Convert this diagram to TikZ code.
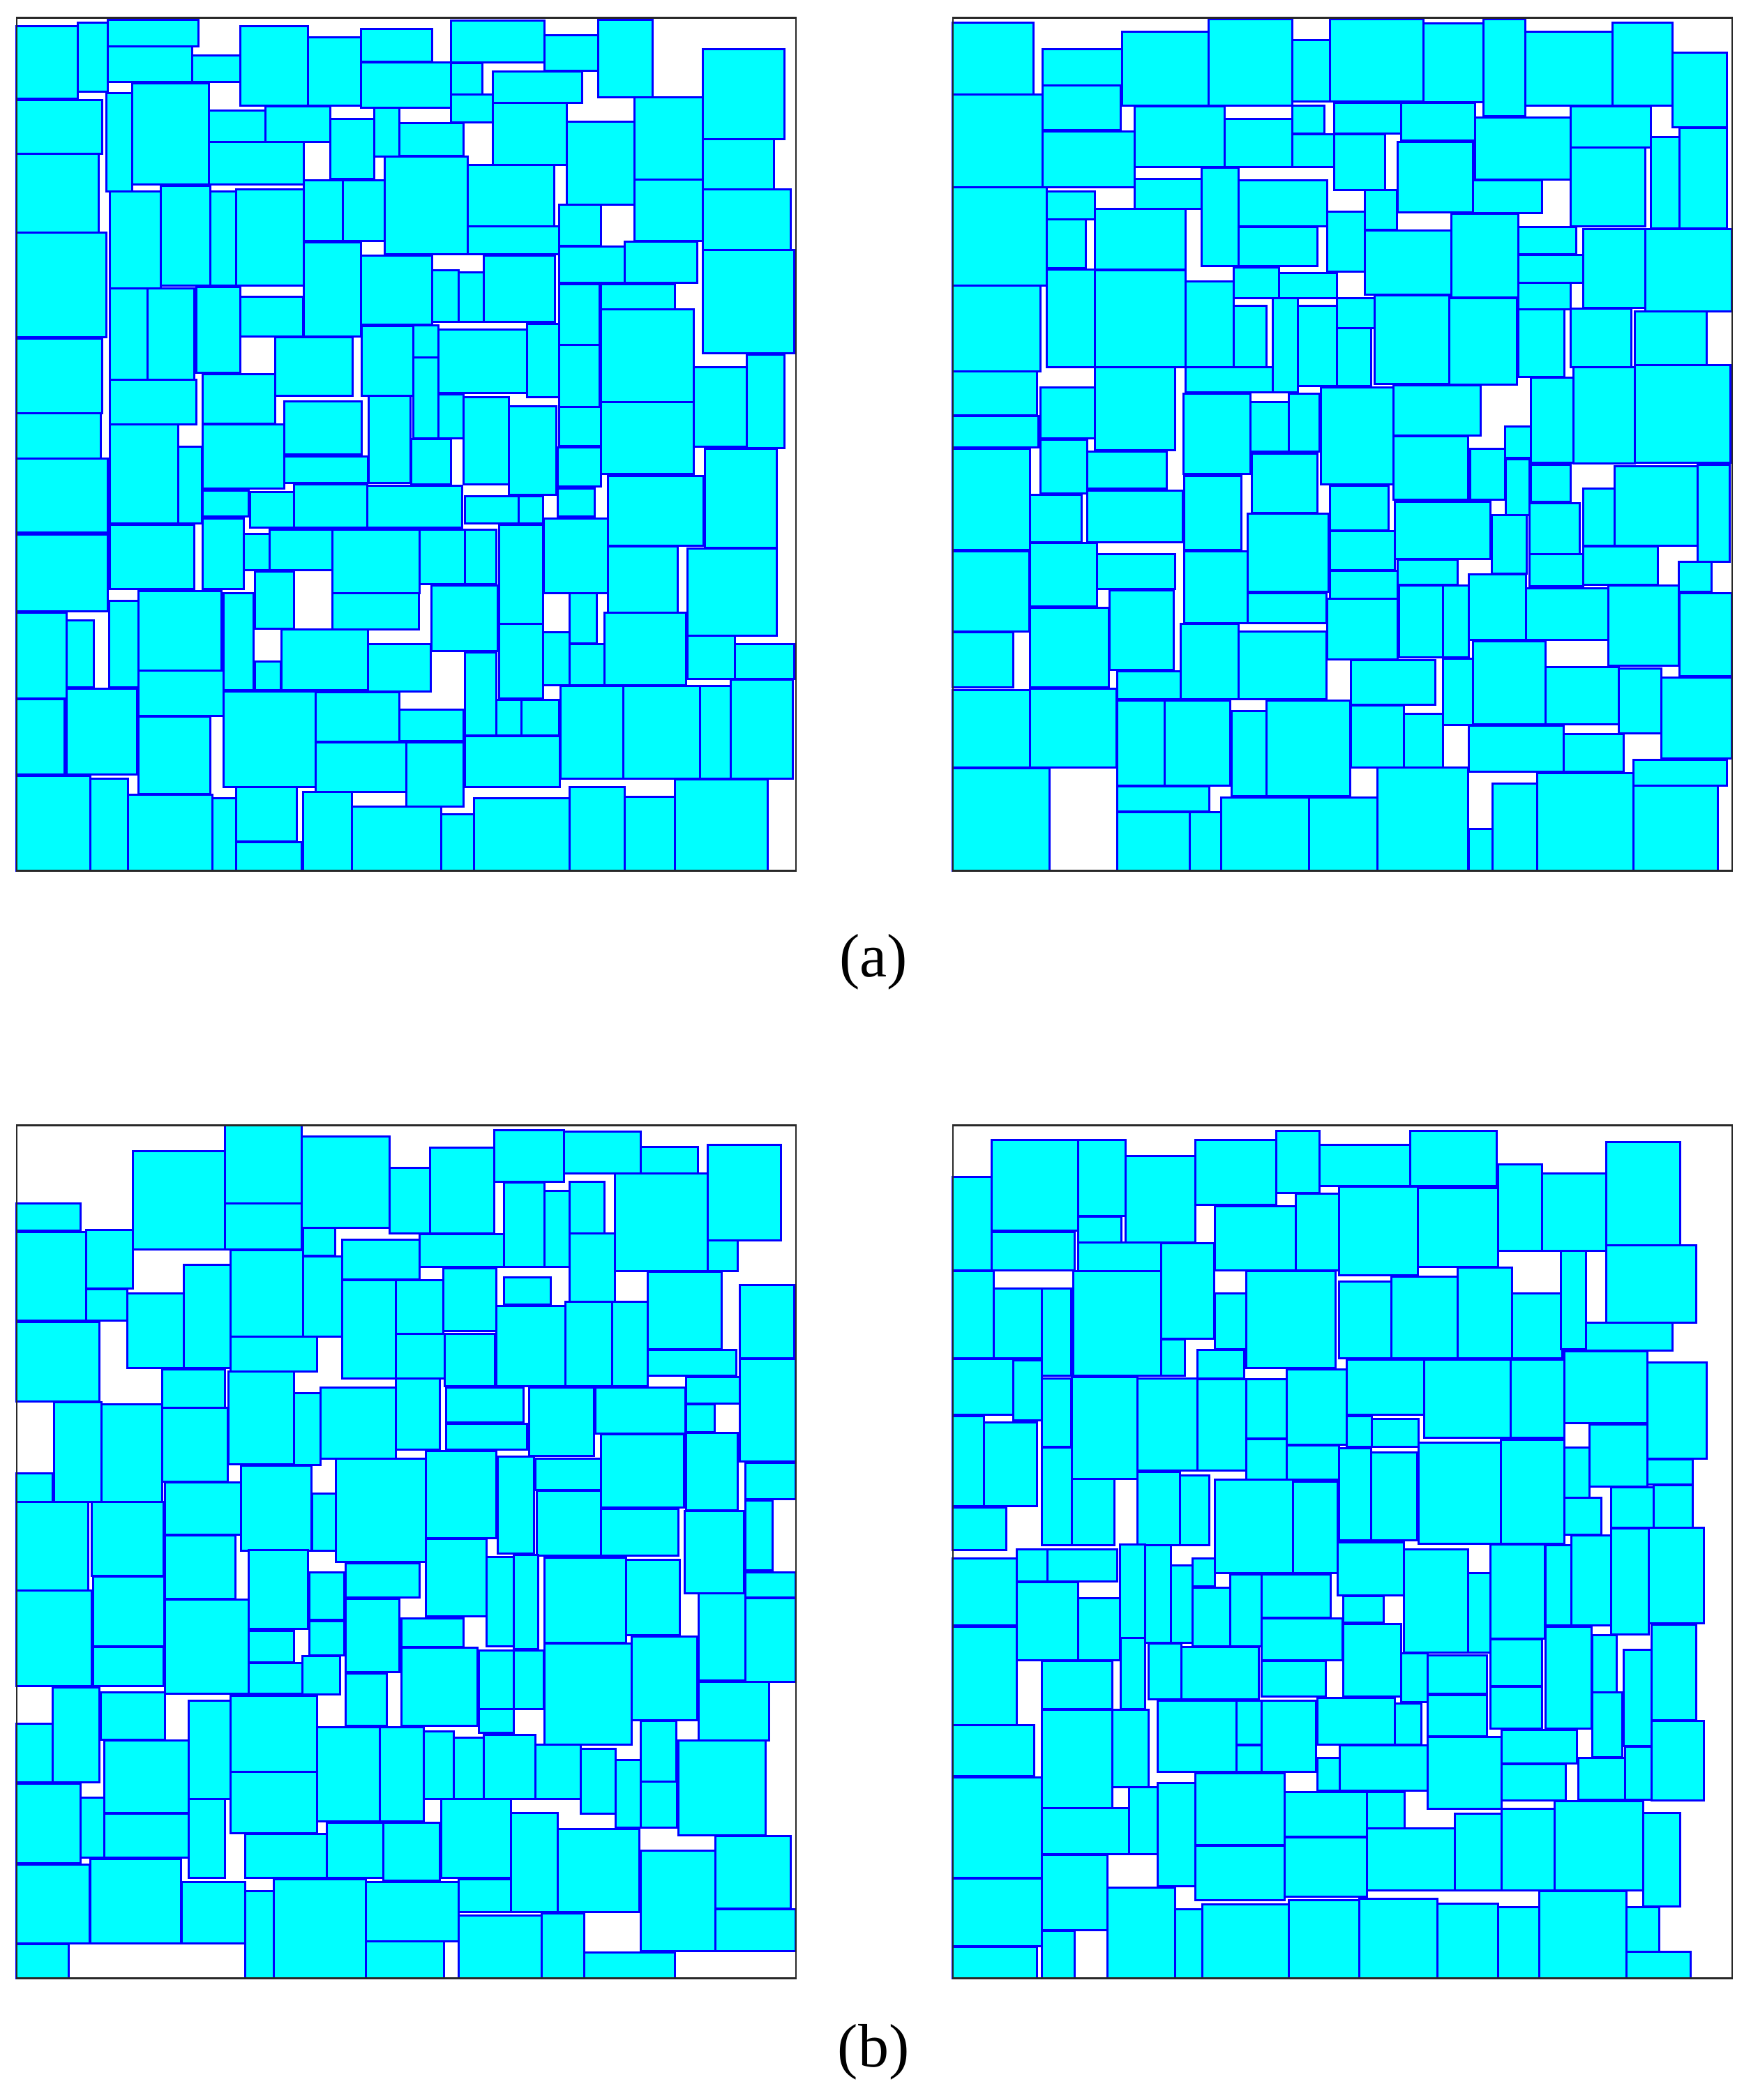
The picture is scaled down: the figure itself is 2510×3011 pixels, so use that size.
\documentclass[tikz,border=0pt]{standalone}
\usepackage{fontspec}
\setmainfont{Liberation Serif}
\definecolor{boxfill}{RGB}{0,255,255}
\definecolor{boxline}{RGB}{0,0,255}
\definecolor{frameline}{RGB}{40,40,40}
\newcommand\rectpanel[3]{%
  \begin{scope}[xshift=#1pt,yshift=-#2pt,x=0.72066pt,y=-0.39698pt]
    \foreach \a/\b/\c/\d in {#3}{\draw[box] (\a,\b) rectangle (\c,\d);}
    \draw[frame] (8,14) rectangle (1558,3095);
  \end{scope}}
\begin{document}
\begin{tikzpicture}[x=1pt,y=-1pt,
  box/.style={draw=boxline,fill=boxfill,line width=3pt},
  frame/.style={draw=frameline,line width=2.5pt},
  lbl/.style={font=\fontsize{88}{100}\selectfont,inner sep=0pt}]
\useasboundingbox (0,0) rectangle (2510,3011);
% top-left panel
\rectpanel{18}{20}{8/45/130/305, 130/32/190/282, 190/22/370/117, 190/117/357/245, 357/150/453/245, 453/45/588/330, 588/85/693/330, 693/55/835/172, 693/175/872/340, 872/25/1058/175, 1058/77/1165/205, 1165/22/1273/300, 1373/127/1535/452, 872/178/935/290, 955/207/1133/322, 872/290/955/392, 955/322/1102/545, 1102/390/1237/688, 1237/300/1373/598, 1373/452/1515/633, 8/310/178/505, 186/285/238/640, 238/250/390/615, 390/350/503/463, 503/335/632/463, 390/463/580/615, 632/380/720/597, 720/340/770/515, 770/395/897/512, 8/505/172/790, 8/790/187/1168, 193/642/295/990, 295/620/393/982, 393/640/445/982, 445/633/580/982, 580/600/657/820, 657/600/740/820, 740/515/906/868, 906/546/1077/767, 906/767/1087/868, 1087/688/1170/838, 1237/598/1373/820, 1373/633/1548/853, 1087/840/1217/972, 1217/822/1362/972, 1373/853/1555/1225, 580/825/693/1165, 693/872/835/1123, 835/925/887/1113, 887/933/937/1113, 937/873/1079/1113, 1087/975/1167/1195, 1170/975/1318/1067, 1170/1067/1355/1402, 193/990/268/1320, 268/992/362/1320, 365/985/453/1297, 453/1022/578/1165, 8/1172/178/1442, 193/1320/365/1482, 378/1302/522/1480, 522/1168/677/1380, 695/1127/797/1380, 797/1125/847/1240, 847/1140/1024/1368, 1024/1120/1087/1383, 797/1240/847/1533, 847/1375/897/1533, 1087/1195/1167/1420,
1087/1420/1170/1561, 1170/1402/1355/1661, 1355/1277/1460/1563, 1460/1230/1535/1568, 8/1442/175/1605, 193/1482/330/1840, 378/1482/540/1715, 540/1400/695/1590, 708/1380/792/1695, 897/1383/987/1698, 987/1418/1082/1738, 793/1535/872/1698,
330/1563/377/1840, 8/1605/190/1873, 8/1881/190/2158, 540/1598/707/1695, 1085/1565/1170/1706, 1085/1713/1158/1816, 1377/1571/1520/1928, 1185/1668/1375/1921, 378/1721/470/1816, 473/1728/560/1856, 560/1698/706/1856, 706/1703/895/1856, 900/1741/1007/1840, 1007/1743/1055/1840, 1057/1823/1185/2093, 193/1846/362/2078, 378/1823/460/2078, 460/1878/512/2008, 512/1863/636/2008, 636/1863/810/2093, 810/1863/900/2060, 900/1863/962/2060, 968/1846/1055/2203, 1185/1923/1323/2163, 1342/1931/1520/2245, 8/2163/107/2473, 107/2191/162/2431, 192/2121/250/2431, 250/2085/415/2371, 250/2371/420/2536, 420/2091/480/2443, 482/2013/560/2221, 636/2093/808/2223, 482/2338/533/2443, 535/2223/707/2443, 707/2276/832/2448, 833/2065/965/2300, 968/2203/1055/2473, 1055/2233/1108/2425, 1108/2093/1162/2273, 1108/2276/1178/2425, 1178/2163/1340/2425, 1342/2245/1437/2401, 1437/2276/1555/2403, 8/2476/103/2748, 107/2438/248/2748, 250/2538/393/2818, 420/2446/603/2793, 603/2451/770/2628, 770/2513/897/2626, 603/2631/783/2810, 783/2631/897/2863, 900/2305/962/2605, 962/2478/1012/2605, 1012/2478/1087/2605, 900/2608/1088/2793, 1090/2428/1215/2761, 1215/2428/1368/2761, 1368/2428/1428/2761, 1428/2405/1552/2761, 8/2753/155/3095, 155/2761/230/3095, 230/2821/397/3095, 397/2833/445/3095, 445/2793/565/2988, 445/2991/575/3095, 578/2811/675/3095, 675/2863/852/3095, 852/2891/918/3095, 918/2833/1108/3095, 1108/2793/1217/3095, 1217/2828/1318/3095, 1318/2765/1502/3095}
% top-right panel
\rectpanel{1360}{20}{8/32/168/290, 187/127/345/258, 187/258/342/420, 345/63/517/330, 517/18/684/330, 684/95/758/315, 758/18/944/315, 944/35/1063/318, 1063/18/1147/368, 1147/65/1320/330, 1320/32/1440/330, 1440/140/1548/410, 8/290/187/625, 187/425/370/625, 370/335/549/553, 549/380/684/553, 684/330/747/432, 684/435/767/553, 767/320/900/433, 900/320/1047/458, 767/435/868/635, 893/462/1043/717, 1047/375/1237/598, 1237/335/1397/483, 1237/483/1385/767, 1397/445/1453/775, 1453/412/1548/775, 1043/600/1180/720, 8/625/195/982, 195/640/290/742, 195/742/272/918, 290/705/471/922, 370/595/503/705, 503/555/577/910, 577/600/753/768, 577/770/733/910, 753/713/828/932, 828/635/892/780, 828/783/1000/1015, 1000/722/1133/1025, 1133/770/1248/868, 1133/870/1262/972, 1262/778/1385/1062, 1385/778/1558/1075, 195/922/290/1277, 290/925/471/1277, 471/965/567/1277, 567/915/657/1027, 657/935/772/1027, 567/1053/632/1277, 645/1027/695/1367, 695/1053/772/1345, 772/1027/847/1135, 772/1135/840/1345, 847/1017/995/1337, 995/1027/1130/1340, 1133/972/1237/1068, 1133/1068/1225/1310, 1237/1065/1358/1277, 1365/1075/1508/1268, 8/982/182/1290, 8/1290/175/1450, 182/1348/290/1533, 471/1277/645/1367, 885/1342/1058/1522,
8/1452/178/1565, 182/1537/275/1733, 290/1277/450/1576, 467/1372/600/1661, 600/1402/677/1581, 677/1372/738/1581, 740/1350/885/1698, 885/1525/1033/1755, 1107/1490/1158/1603, 1158/1313/1243/1621, 1243/1277/1365/1623, 1365/1268/1555/1621,
8/1571/162/1936, 276/1581/433/1715, 276/1721/465/1908, 162/1738/265/1908, 603/1588/733/1803, 1037/1571/1107/1755, 1108/1608/1155/1811, 1158/1628/1237/1763, 1325/1633/1490/1921, 1490/1628/1553/1978, 1262/1713/1325/1921, 1155/1768/1255/1951, 468/1668/582/1936, 594/1806/755/2088, 758/1703/875/1866, 758/1868/887/2008, 887/1761/1077/1968, 1080/1811/1150/2021, 8/1941/160/2231, 162/1911/295/2141, 295/1951/450/2078, 320/2083/448/2370, 162/2145/318/2431, 8/2233/128/2431, 468/1941/594/2201, 594/2091/752/2201, 758/2011/893/2111, 893/1971/1012/2061, 1155/1951/1262/2068, 1262/1923/1410/2061, 1452/1978/1518/2088, 1453/2091/1558/2393, 1312/2065/1452/2353, 1148/2075/1312/2261, 1035/2025/1148/2261, 895/2065/983/2323, 983/2065/1035/2323, 753/2113/893/2331, 462/2203/577/2475, 577/2231/752/2475, 335/2375/462/2475, 8/2441/162/2721, 162/2438/333/2721, 335/2481/430/2788, 430/2481/560/2788, 563/2518/632/2825, 632/2481/798/2825, 800/2335/968/2496, 800/2498/905/2721, 905/2528/983/2721, 983/2328/1043/2568, 1043/2265/1187/2566, 1187/2358/1333/2566, 1333/2365/1417/2598, 1417/2396/1558/2688, 1035/2570/1223/2738, 1223/2601/1342/2738, 1362/2693/1548/2788, 8/2725/200/3095, 335/2791/518/2881, 335/2883/480/3095, 480/2883/542/3095, 542/2830/717/3095, 717/2830/852/3095, 852/2723/1033/3095, 1035/2943/1082/3095, 1082/2781/1170/3095, 1170/2741/1362/3095, 1362/2788/1530/3095}
% bottom-left panel
\rectpanel{18}{1608}{8/295/135/395, 8/398/147/720, 147/392/240/603, 147/605/228/720, 240/107/423/463, 423/15/575/295, 423/295/575/463, 575/55/750/383, 750/168/830/405, 830/95/958/405, 958/32/1097/217, 1097/37/1250/187, 1250/93/1363/187, 1383/85/1528/430, 1198/187/1383/540, 1383/430/1443/540, 978/220/1058/525, 1058/250/1108/525, 1108/218/1177/405, 1108/405/1198/650, 810/408/978/525, 578/385/642/485, 578/487/655/776, 655/428/810/570, 433/465/578/776, 340/517/433/890, 228/620/340/890, 8/725/173/1012, 433/776/605/902, 655/573/763/928, 763/573/857/766, 857/530/962/758, 763/768/860/928, 860/766/960/955, 978/562/1070/662, 962/665/1100/955, 1100/650/1193/955, 1193/650/1263/955, 1263/542/1410/822, 1263/825/1440/918, 1447/590/1555/855, 1447/858/1558/1228, 297/895/423/1033, 430/902/560/1238, 560/982/613/1240, 613/960/763/1218, 763/928/850/1185, 862/962/1017/1088, 862/1092/1023/1185, 1027/962/1157/1207, 1160/962/1338/1128, 1340/922/1447/1020, 1340/1022/1397/1122, 1340/1125/1443/1405, 1170/1130/1335/1393, 82/1015/177/1373, 177/1022/297/1373, 297/1035/428/1302, 8/1272/80/1373, 303/1303/455/1492, 822/1190/962/1505, 1040/1218/1170/1332, 1458/1232/1558/1365,
455/1243/595/1551, 596/1343/643/1550, 470/1548/587/1833, 643/1218/822/1590, 822/1508/943/1788, 965/1210/1037/1561, 1043/1335/1170/1568, 1170/1400/1325/1568, 1337/1407/1455/1703, 1458/1368/1512/1621, 8/1375/150/1693, 158/1375/300/1640, 303/1495/443/1723,
8/1695/158/2038, 160/1643/302/1896, 160/1898/300/2038, 303/1728/470/2066, 470/1840/560/1953, 470/1955/577/2066, 577/1931/652/2070, 590/1628/660/1801, 590/1806/660/1928, 662/1595/810/1720, 662/1723/770/1988, 662/1993/745/2183, 773/1795/897/1898, 773/1901/925/2183, 943/1573/997/1895, 997/1565/1045/1905, 928/1911/997/2121, 997/1911/1057/2121, 928/2123/997/2208, 1058/1575/1220/1883, 1220/1583/1327/1856, 1058/1886/1232/2250, 1232/1861/1362/2163, 1365/1703/1458/2020, 1458/1721/1558/2023, 1458/1628/1558/1718, 1365/2025/1505/2235, 8/2175/80/2386, 80/2043/173/2386, 175/2063/303/2233, 350/2091/433/2446, 433/2075/605/2348, 433/2348/605/2570, 182/2236/350/2498, 182/2500/350/2660, 8/2393/135/2678, 135/2441/182/2660, 350/2448/422/2733, 605/2188/730/2528, 730/2188/818/2528, 818/2203/877/2446, 877/2226/938/2446, 938/2215/1040/2446, 1040/2251/1130/2446, 1130/2265/1200/2500, 1200/2305/1250/2550, 1250/2165/1320/2385, 1250/2385/1322/2550, 1325/2235/1498/2578, 463/2573/625/2733, 625/2533/737/2733, 737/2533/850/2743, 852/2448/992/2733, 992/2498/1085/2855, 1085/2556/1247/2855, 1250/2633/1398/2996, 1398/2581/1548/2843, 1398/2846/1558/2996, 8/2683/153/2968, 155/2665/335/2968, 337/2748/463/2968, 8/2971/112/3095, 463/2780/520/3095, 520/2738/703/3095, 703/2748/888/2960, 703/2960/858/3095, 888/2738/992/2855, 888/2868/1053/3095, 1053/2861/1137/3095, 1137/3001/1318/3095}
% bottom-right panel
\rectpanel{1360}{1608}{8/200/85/537, 85/67/258/395, 258/67/352/342, 258/345/343/437, 352/125/490/437, 85/398/250/537, 258/437/423/540, 423/440/528/785, 490/67/652/302, 652/35/738/258, 738/85/918/232, 918/35/1090/232, 1093/155/1180/467, 1180/187/1308/467, 1308/75/1455/447, 530/305/690/537, 690/260/777/537, 777/235/933/555, 933/240/1093/525, 8/540/90/855, 90/603/185/855, 185/603/243/917, 248/540/423/917, 423/787/470/917, 530/620/592/822, 592/540/770/890, 495/825/588/927, 777/578/880/855, 880/560/1012/855, 1012/527/1120/855, 1120/620/1220/855, 1218/467/1268/822, 1308/447/1487/727, 1268/727/1440/827, 8/858/128/1060, 128/862/185/1080, 185/927/243/1175, 245/922/375/1290, 375/927/495/1260, 495/930/592/1260, 592/930/672/1145, 672/895/792/1167, 792/860/945/1060, 945/860/1118/1143, 1118/860/1225/1143, 1225/830/1390/1090, 1390/870/1507/1217, 8/1065/70/1390, 70/1087/175/1390, 185/1178/245/1530, 245/1290/330/1530, 375/1265/460/1530, 460/1278/518/1530, 592/1148/672/1293, 672/1170/777/1293, 792/1063/842/1175, 842/1075/935/1175, 777/1180/840/1513, 840/1195/932/1513, 935/1160/1098/1525, 1098/1150/1225/1525, 1225/1178/1275/1360, 1275/1095/1390/1318, 1390/1220/1480/1310, 1225/1360/1298/1493, 1318/1322/1402/1467, 1402/1313/1480/1467, 8/1393/115/1548,
530/1293/685/1630, 685/1300/773/1630, 773/1520/905/1711, 905/1545/1033/1918, 1077/1528/1185/1868, 1187/1530/1238/1821, 1238/1495/1318/1821, 1318/1470/1393/1853, 1393/1467/1502/1813, 135/1545/197/1661, 197/1545/335/1661, 340/1528/390/1865, 390/1530/442/1883,
8/1578/135/1821, 8/1825/135/2180, 135/1665/258/1945, 258/1721/340/1945, 442/1603/485/1883, 485/1578/530/1678, 485/1683/560/1895, 560/1635/623/1895, 623/1635/760/1793, 1033/1631/1077/1918, 623/1796/783/1946, 623/1948/750/2078, 785/1715/865/1811, 785/1815/900/2078, 342/1865/390/2123, 398/1886/463/2088, 463/1898/617/2088, 185/1948/325/2121, 185/2125/325/2481, 325/2125/398/2405, 8/2180/170/2365, 8/2368/185/2733, 8/2735/185/2978, 8/2980/175/3095, 185/2481/358/2645, 358/2405/415/2645, 415/2388/490/2763, 185/2648/315/2920, 185/2923/250/3095, 315/2766/450/3095, 450/2846/505/3095, 505/2828/677/3095, 677/2813/817/3095, 817/2808/972/3095, 972/2826/1093/3095, 1093/2838/1175/3095, 1175/2780/1348/3095, 1348/2838/1413/2998, 1348/3000/1475/3095, 415/2093/572/2348, 572/2093/623/2251, 572/2253/623/2348, 623/2093/730/2348, 733/2083/887/2250, 887/2103/940/2250, 900/1921/952/2098, 952/1928/1070/2068, 952/2073/1070/2221, 1078/1871/1180/2038, 1078/2041/1180/2193, 1187/1826/1278/2193, 1280/1856/1328/2061, 1280/2063/1340/2295, 1342/1908/1398/2255, 1398/1818/1487/2163, 1398/2165/1502/2453, 1345/2258/1398/2450, 1252/2298/1345/2450, 1100/2198/1250/2318, 1100/2321/1228/2451, 733/2298/778/2418, 778/2253/953/2418, 953/2223/1100/2483, 490/2353/668/2613, 490/2615/668/2813, 668/2423/832/2583, 668/2585/832/2800, 832/2423/907/2553, 832/2553/1007/2776, 1007/2500/1100/2776, 1100/2483/1205/2776, 1205/2455/1382/2776, 1382/2498/1455/2836}
\node[lbl] (lbla) at (1252,1379) {(a)};
\node[lbl] (lblb) at (1252,2942) {(b)};
\end{tikzpicture}
\end{document}
